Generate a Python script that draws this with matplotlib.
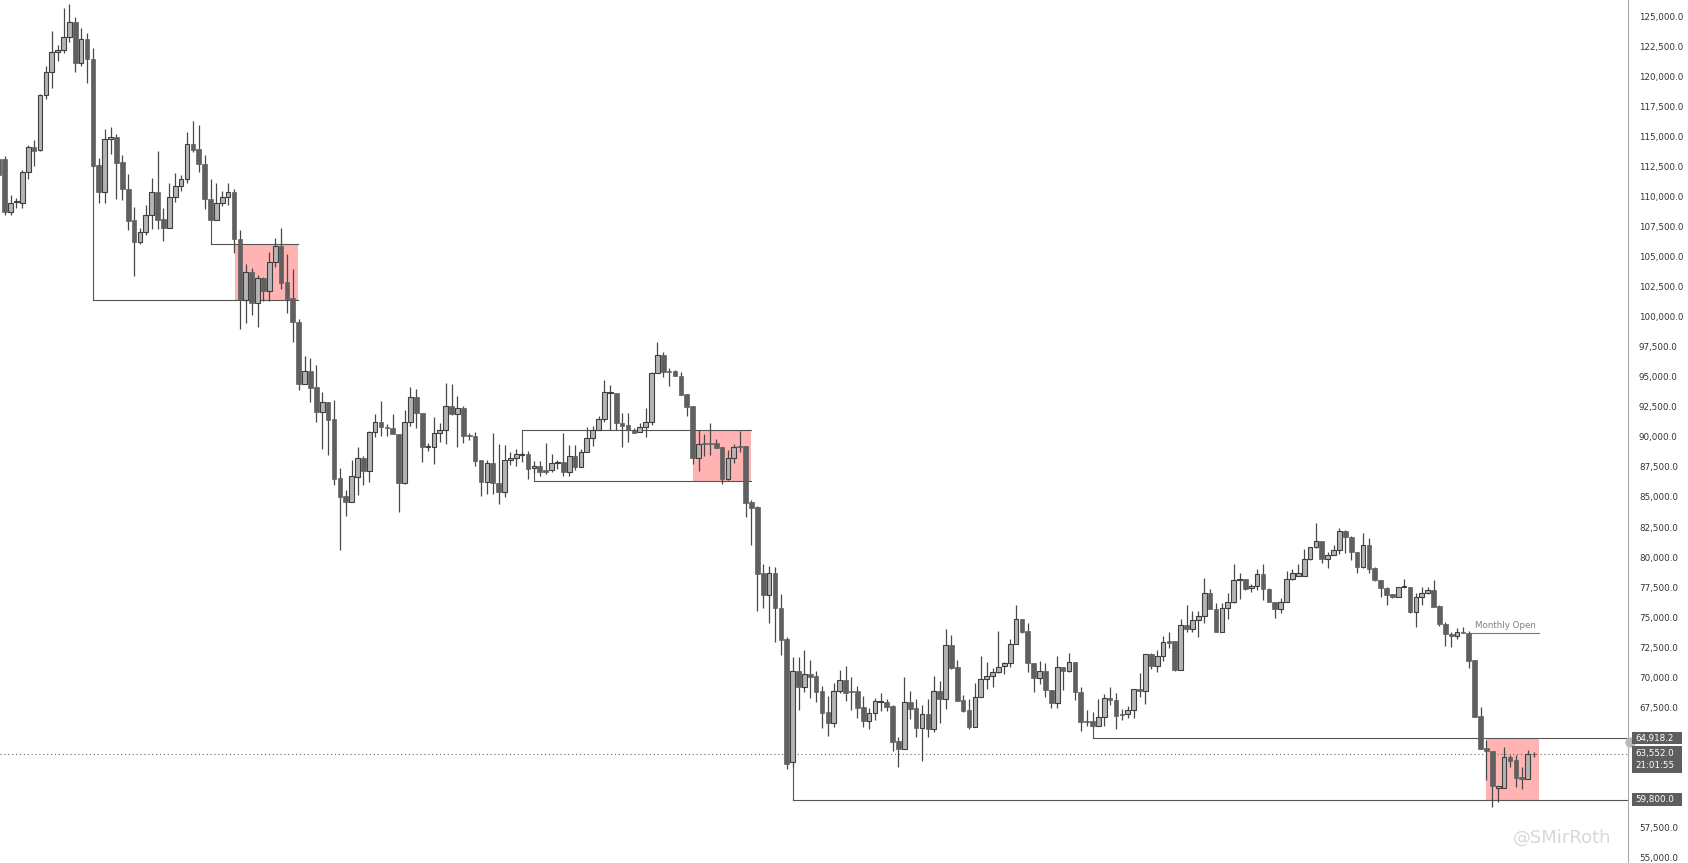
import matplotlib
matplotlib.use('Agg')
import matplotlib.pyplot as plt
from matplotlib.patches import Rectangle
from matplotlib.transforms import blended_transform_factory
import numpy as np

# ===== Data (price per candle) =====
opens = [113130, 113130, 108770, 109550, 109460, 112040, 114130, 113880, 118460, 120370,
         122040, 122210, 123290, 124540, 121120, 123120, 121460, 112650, 110430, 114790,
         114960, 112880, 110630, 108070, 106270, 107040, 108460, 110380, 108160, 107430,
         109960, 110880, 111460, 114380, 113990, 112710, 109850, 108100, 109460, 109960,
         110380, 106460, 101410, 103710, 101190, 103210, 102190, 104550, 105880, 102880,
         101550, 99550, 94440, 95500, 94160, 92110, 92880, 91500, 86550, 85050,
         84610, 86690, 88220, 87190, 90390, 91220, 90830, 90720, 90250, 86190,
         91220, 93300, 91970, 89160, 89190, 90300, 90550, 92550, 91890, 92390,
         90160, 90110, 88050, 86280, 87800, 86140, 85390, 88050, 88220, 88520,
         88550, 87410, 87580, 87220, 87220, 87800, 87890, 87110, 88390, 87530,
         88720, 89890, 90550, 91470, 93640, 93640, 91190, 90970, 90550, 90390,
         90860, 91220, 95300, 96800, 95500, 95500, 95050, 93550, 92550, 88280,
         89470, 89500, 89500, 89160, 86530, 88220, 89250, 89220, 84580, 84170,
         78640, 76860, 78640, 75720, 73170, 62900, 70480, 69200, 70250, 70090,
         68840, 67060, 66200, 68810, 69730, 68840, 68840, 67480, 66370, 66980,
         67950, 67890, 67590, 64670, 63980, 67890, 67390, 65780, 66890, 65700,
         68810, 68200, 72640, 70810, 68090, 67260, 65870, 68370, 69870, 70120,
         70450, 70890, 71140, 72730, 74810, 73840, 71200, 69890, 70480, 68920,
         67810, 70810, 70480, 71230, 68750, 66340, 66310, 65950, 66700, 68230,
         68090, 66920, 66890, 67260, 68980, 68840, 71920, 70950, 71750, 72980,
         73000, 70590, 74310, 74030, 74750, 75090, 76970, 75640, 73730, 75730,
         76230, 78110, 78140, 77450, 77560, 78560, 77360, 76230, 75700, 76230,
         78140, 78450, 78450, 79810, 80810, 81310, 79860, 80140, 80560, 82140,
         81640, 80420, 79200, 80970, 79090, 78060, 77390, 76890, 76700, 77500,
         77530, 75450, 76640, 76970, 77220, 75890, 74390, 73560, 73420, 73780,
         73640, 71420, 66760, 64060, 63810, 60790, 60790, 63310, 63090, 61650,
         61480, 63560]
highs = [113400, 113400, 110150, 109880, 112240, 114320, 114740, 118540, 120900, 123820,
         122620, 125730, 126070, 124980, 124070, 123650, 122370, 113210, 115630, 115820,
         115240, 113490, 111900, 109160, 107380, 109320, 111570, 113820, 109040, 111150,
         111990, 111790, 115380, 116320, 115990, 113490, 111490, 111150, 110460, 111150,
         110630, 107240, 104380, 104100, 103490, 103350, 105380, 106550, 107380, 105210,
         104010, 99800, 96750, 96550, 96000, 93720, 92880, 93080, 87390, 85580,
         88080, 89140, 88410, 90520, 91890, 93000, 91080, 91890, 90250, 92250,
         94130, 94000, 91970, 89470, 91640, 91160, 94500, 94410, 93440, 92610,
         90360, 90390, 88050, 88080, 90300, 89390, 89300, 88750, 89000, 88750,
         88830, 87970, 87970, 89470, 88580, 88080, 90360, 89300, 89300, 88970,
         90860, 90910, 91720, 94720, 94330, 93640, 91970, 91970, 90750, 91190,
         92390, 95380, 97910, 97050, 95720, 95580, 95380, 93550, 92550, 90550,
         90250, 91160, 89830, 89160, 88910, 89390, 90520, 89220, 84750, 84250,
         79390, 79250, 79190, 76920, 73340, 71640, 71640, 72230, 71390, 70500,
         69250, 68420, 69500, 70590, 70920, 70030, 69250, 68420, 67390, 68230,
         68640, 68170, 67640, 64980, 70000, 68840, 68140, 67670, 68170, 70060,
         69640, 73980, 73480, 71420, 68500, 68170, 69480, 71750, 71230, 70780,
         73840, 71280, 73140, 76000, 74810, 74530, 71200, 71310, 71140, 68920,
         71750, 70810, 71980, 71230, 69170, 67260, 67120, 68200, 68560, 69200,
         68640, 67310, 67590, 68980, 70310, 71920, 71980, 72250, 73420, 73750,
         73000, 74840, 76000, 75470, 75470, 78280, 77360, 76140, 76140, 76970,
         79420, 78640, 78200, 77720, 78970, 79390, 77450, 76230, 76560, 78860,
         79000, 79420, 80670, 80810, 82810, 81310, 80420, 80970, 82390, 82250,
         81750, 80420, 81970, 81560, 79140, 78060, 77530, 76890, 77530, 78140,
         77530, 76970, 77530, 77470, 78090, 75980, 74560, 73780, 74060, 74200,
         73860, 71420, 67480, 64760, 63810, 60950, 64200, 63510, 63510, 62480,
         63920, 63790]
lows = [111500, 108490, 108490, 109040, 109100, 111460, 112600, 113850, 118180, 119070,
        121350, 122010, 122930, 120430, 120930, 119510, 112520, 109460, 109460, 113540,
        109790, 109740, 107240, 103430, 106050, 106790, 107320, 107320, 106350, 107430,
        109600, 110520, 111180, 113770, 112100, 108990, 108100, 108100, 109270, 109350,
        105300, 99000, 99500, 100160, 99190, 101320, 101320, 104180, 102320, 100300,
        97950, 93910, 94440, 92940, 91270, 89000, 88500, 86000, 80580, 83420,
        84610, 85160, 86030, 86280, 90020, 90110, 90110, 90220, 83780, 86080,
        90940, 90770, 87940, 88860, 87720, 89550, 89390, 91830, 89190, 89470,
        89750, 87610, 85110, 85220, 85250, 84440, 85030, 87640, 87580, 87940,
        86530, 86970, 86750, 86910, 87110, 87330, 86780, 86780, 87250, 87530,
        88720, 89280, 90550, 91270, 90580, 90580, 89190, 89610, 90360, 90390,
        90020, 91020, 95300, 95020, 94220, 95050, 93520, 91770, 87750, 87190,
        88440, 88500, 89110, 86050, 86410, 87830, 88780, 83360, 81000, 75530,
        75720, 74530, 72950, 71840, 62310, 62500, 67260, 68780, 68250, 67950,
        65780, 65120, 65870, 68700, 68010, 67260, 66590, 65870, 65640, 66420,
        67200, 67200, 63840, 62480, 63980, 66530, 64980, 63030, 65030, 65390,
        66140, 67370, 70640, 68030, 67120, 65640, 65810, 68370, 68980, 69200,
        70370, 70230, 70870, 72730, 73700, 70450, 68780, 69390, 68370, 67390,
        67450, 68920, 70420, 68090, 65530, 65920, 65730, 65950, 65950, 67640,
        65700, 66420, 66620, 66620, 68310, 67730, 70670, 70450, 71370, 72450,
        70500, 70590, 73750, 73730, 73310, 74530, 75640, 73730, 73730, 74810,
        76140, 76530, 77250, 77110, 77220, 76420, 76230, 74890, 75310, 76230,
        78090, 78450, 78450, 79750, 80720, 79470, 79110, 80140, 80220, 80360,
        79750, 78700, 79110, 78640, 78000, 76700, 76000, 76560, 76640, 77450,
        75360, 74200, 76000, 76890, 75860, 74280, 72590, 72480, 73140, 73640,
        70730, 66650, 64040, 61420, 59150, 59560, 60790, 62480, 60810, 60670,
        61480, 63310]
closes = [111820, 108770, 109460, 109650, 112040, 114130, 113850, 118460, 120370, 122040,
          122210, 123290, 124540, 121120, 123120, 121460, 112600, 110430, 114790, 114960,
          112850, 110630, 108020, 106270, 107040, 108460, 110380, 108100, 107430, 109960,
          110880, 111460, 114380, 113930, 112710, 109850, 108100, 109460, 109960, 110380,
          106460, 101410, 103710, 101190, 103210, 102190, 104550, 105880, 102850, 101490,
          99550, 94440, 95500, 94110, 92080, 92880, 91410, 86500, 85000, 84610,
          86720, 88220, 87190, 90390, 91220, 90800, 90770, 90220, 86190, 91220,
          93300, 91970, 89190, 89220, 90300, 90550, 92550, 91890, 92390, 90110,
          90110, 88030, 86280, 87800, 86140, 85390, 88050, 88220, 88550, 88580,
          87360, 87580, 87110, 87110, 87800, 87910, 87110, 88390, 87530, 88720,
          89890, 90550, 91470, 93720, 93720, 91190, 90910, 90550, 90360, 90860,
          91220, 95300, 96800, 95440, 95440, 95050, 93520, 92520, 88280, 89390,
          89410, 89440, 89110, 86530, 88220, 89140, 89190, 84530, 84110, 78590,
          76860, 78640, 75720, 73090, 62780, 70480, 69200, 70230, 70030, 68780,
          67030, 66200, 68810, 69730, 68700, 68780, 67420, 66370, 66980, 67980,
          68010, 67530, 64620, 63980, 67890, 67370, 65780, 66890, 65700, 68810,
          68200, 72640, 70780, 68030, 67200, 65870, 68370, 69870, 70120, 70450,
          70870, 71170, 72730, 74810, 73780, 71140, 69890, 70480, 68920, 67810,
          70810, 70480, 71230, 68730, 66280, 66280, 65950, 66700, 68230, 68060,
          66780, 66870, 67260, 68980, 68840, 71920, 70950, 71750, 72920, 72860,
          70590, 74310, 74030, 74750, 75090, 76970, 75640, 73730, 75730, 76230,
          78090, 78170, 77360, 77560, 78560, 77310, 76230, 75700, 76230, 78140,
          78640, 78640, 79810, 80810, 81310, 79860, 80140, 80560, 82140, 81640,
          80390, 79200, 80970, 79030, 78060, 77390, 76840, 76700, 77470, 77560,
          75450, 76640, 76970, 77220, 75860, 74390, 73560, 73420, 73780, 73640,
          71340, 66700, 64040, 63810, 60950, 60950, 63310, 63040, 61620, 61480,
          63560, 63552]

# drawn levels: candle where the line starts, price it starts at, level, end candle
line_start = [16, 36, 89, 91, 186, 135]
line_anchor = [112600, 108100, 88550, 87410, 65950, 62780]
line_level = [101450, 106100, 90550, 86300, 64918.2, 59800]
line_end = [50.93, 50.93, 127.9, 127.9, 280, 280]

# pink zones: left, right, bottom, top
zones = [(40.17, 50.93, 101450, 106100),
         (118.1, 127.9, 86300, 90550),
         (253.0, 262.0, 59800, 64918.2)]

monthly_open = 73640
last_price = 63552.0
countdown = '21:01:55'
tag_levels = [64918.2, 59800.0]

# ===== Figure =====
W, H = 1688, 863
AXW = 1628
fig = plt.figure(figsize=(W / 100, H / 100), dpi=100)
ax = fig.add_axes([0, 0, AXW / W, 1])
ax.set_xlim(0.2, 277.07)
ax.set_ylim(54512, 126400)

o = np.array(opens, float)
h = np.array(highs, float)
l = np.array(lows, float)
c = np.array(closes, float)
x = np.arange(len(o))
up = c >= o

dark = '#606060'
light = '#b4b4b4'
edge = '#3e3e3e'

ax.vlines(x, l, h, color='#484848', lw=0.9, zorder=3)
bot = np.minimum(o, c)
hgt = np.maximum(np.abs(c - o), 70)
ax.bar(x[~up], hgt[~up], bottom=bot[~up], width=0.8, color=dark, edgecolor=dark,
       linewidth=0.5, zorder=4)
ax.bar(x[up], hgt[up], bottom=bot[up], width=0.8, color=light, edgecolor=edge,
       linewidth=0.8, zorder=4)

# zones
for x0, x1, y0, y1 in zones:
    ax.add_patch(Rectangle((x0, y0), x1 - x0, y1 - y0, facecolor='#ffb3b3',
                           edgecolor='none', zorder=1))

# level lines
lc = '#555555'
for s, a, lv, e in zip(line_start, line_anchor, line_level, line_end):
    ax.plot([s, s], [a, lv], color=lc, lw=0.8, zorder=2)
    ax.plot([s, e], [lv, lv], color=lc, lw=0.8, zorder=2)

# monthly open
ax.plot([250, 262.0], [monthly_open, monthly_open], color='#777777', lw=0.8, zorder=2)
ax.text(256.2, monthly_open + 250, 'Monthly Open', ha='center', va='bottom',
        fontsize=6.3, color='#808080')

# last price dotted line
ax.axhline(last_price, color='#666666', lw=0.8, linestyle=(0, (1, 2.5)), zorder=2)

# axis
for sp in ['left', 'top', 'bottom']:
    ax.spines[sp].set_visible(False)
ax.spines['right'].set_color('#aaaaaa')
ax.spines['right'].set_linewidth(0.8)
ax.set_xticks([])
ticks = [v for v in range(55000, 125001, 2500) if v not in (60000, 62500, 65000)]
ax.set_yticks(ticks)
ax.set_yticklabels([f'{v:,.1f}' for v in ticks])
ax.tick_params(axis='y', left=False, right=False, labelleft=False, labelright=True,
               length=0, pad=7.9, labelsize=6.3, labelcolor='#333333')

# price tags
tr = blended_transform_factory(ax.transAxes, ax.transData)
px = 1.0 / AXW
pp = (126400 - 54512) / H
tag_c = '#5e5e5e'
ax.plot([1.0 + 2 * px], [64918.2 - 4 * pp], 'o', ms=6.5, color='#b9b9b9',
        transform=tr, clip_on=False, zorder=5)
for lv in tag_levels:
    ax.add_patch(Rectangle((1.0 + 3.5 * px, lv - 6.3 * pp), 50 * px, 12.6 * pp,
                           transform=tr, facecolor=tag_c, edgecolor='none',
                           clip_on=False, zorder=6))
    ax.text(1.0 + 7 * px, lv, f'{lv:,.1f}', transform=tr, color='white', fontsize=6.3,
            ha='left', va='center', clip_on=False, zorder=7)
y_top = 64250
y_bot = 61990
ax.add_patch(Rectangle((1.0 + 3.5 * px, y_bot), 50 * px, y_top - y_bot, transform=tr,
                       facecolor=tag_c, edgecolor='none', clip_on=False, zorder=6))
ax.text(1.0 + 7 * px, (y_top + y_bot) / 2, f'{last_price:,.1f}\n{countdown}',
        transform=tr, color='white', fontsize=6.3, ha='left', va='center',
        linespacing=1.35, clip_on=False, zorder=7)

# watermark
fig.text(1562 / W, 1 - 838 / H, '@SMirRoth', color='#cfcfcf', fontsize=13,
         ha='center', va='center', alpha=0.8)

fig.savefig('out.png', dpi=100)
print('saved')
